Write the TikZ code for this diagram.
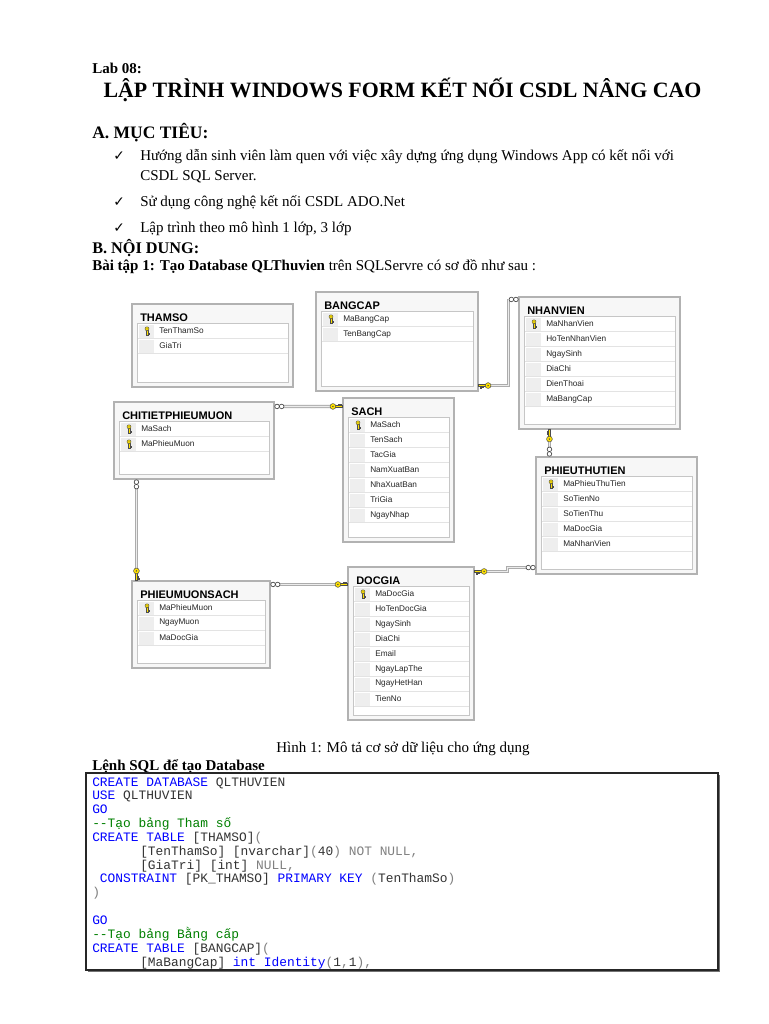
\documentclass[tikz,border=0pt]{standalone}
\usepackage{fontspec}
\setmainfont{Liberation Serif}
\setmonofont{Liberation Mono}
\newfontfamily\tblfont{Liberation Sans}
\newfontfamily\symfont{DejaVu Sans}
\usetikzlibrary{fit,calc}
\definecolor{sqlblue}{RGB}{0,0,255}
\definecolor{sqlgreen}{RGB}{0,128,0}
\definecolor{sqlgray}{RGB}{128,128,128}
\definecolor{keyyellow}{RGB}{255,226,0}
\newcommand{\kw}[1]{\textcolor{sqlblue}{#1}}
\newcommand{\cmt}[1]{\textcolor{sqlgreen}{#1}}
\newcommand{\gry}[1]{\textcolor{sqlgray}{#1}}
\newcommand{\dbtable}[7]{%
  \node[tblbox, fit={(#2,#3) (#4,#5)}] (#1) {};
  \draw[tblinner] (#2+5,#3+19.5) rectangle (#4-5,#5-5);
  \node[tbltitle] (#1-title) at (#2+8,#3+17.5) {#6};
  \foreach \k/\t [count=\i from 0] in {#7} {
    \pgfmathsetmacro\yt{#3+19.5+15*\i}
    \fill[keycell] (#2+6.5,\yt+1) rectangle (#2+22,\yt+14);
    \draw[rowline] (#2+5.5,\yt+15) -- (#4-5.5,\yt+15);
    \node[rowtext] (#1-r\i) at (#2+27,\yt+7.5) {\t};
    \ifnum\k=1 \pic at (#2+15,\yt+7.5) {rowkey}; \fi
  }
}
\begin{document}
\begin{tikzpicture}[x=0.8pt,y=-0.8pt,
  txt/.style={anchor=base west, inner sep=0, font=\fontsize{12}{14}\selectfont},
  chk/.style={anchor=base west, inner sep=0, font=\symfont\fontsize{11}{12}\selectfont},
  tblbox/.style={draw=gray!60, fill=gray!6, line width=0.9pt, inner sep=0},
  tblinner/.style={draw=gray!45, fill=white, line width=0.7pt},
  rowline/.style={draw=gray!22, line width=0.5pt},
  keycell/.style={fill=gray!13},
  rowtext/.style={anchor=west, inner sep=0, font=\tblfont\fontsize{6.6}{7}\selectfont, text=black!85},
  tbltitle/.style={anchor=base west, inner sep=0, font=\tblfont\bfseries\fontsize{8.8}{9}\selectfont},
  rel/.style={draw=gray!65, double=gray!15, double distance=1.1pt, line width=0.8pt},
  code/.style={anchor=base west, inner sep=0, font=\ttfamily\fontsize{10.3}{12}\selectfont, text=black!80},
  rowkey/.pic={
    \filldraw[fill=keyyellow, draw=black!70, line width=0.3pt] (-0.7,-0.5) rectangle (0.7,4.2);
    \filldraw[fill=keyyellow, draw=black!70, line width=0.3pt] (0.7,2.2) rectangle (1.9,3.3);
    \filldraw[fill=keyyellow, draw=black!70, line width=0.35pt] (0,-2.2) circle (2);
    \fill[black!70] (0,-2.2) circle (0.5);
  },
  relkey/.pic={
    \filldraw[fill=keyyellow, draw=black!70, line width=0.3pt] (0,-1) rectangle (7.2,1);
    \filldraw[fill=keyyellow, draw=black!70, line width=0.3pt] (1.3,1) rectangle (2.4,2.4);
    \filldraw[fill=keyyellow, draw=black!70, line width=0.3pt] (3.4,1) rectangle (4.5,2.1);
    \filldraw[fill=keyyellow, draw=black!70, line width=0.4pt] (9.5,0) circle (2.9);
    \fill[black!70] (9.5,0) circle (0.8);
  },
  relmany/.pic={
    \draw[black!75, line width=0.5pt, fill=white] (2.5,0) circle (2.3);
    \draw[black!75, line width=0.5pt, fill=white] (7.1,0) circle (2.3);
  }
]
\useasboundingbox (0,0) rectangle (768,1024);
\fill[white] (0,0) rectangle (768,1024);

% ---------- header text ----------
\node[txt, font=\bfseries\fontsize{12}{14}\selectfont] (lab) at (92,74) {Lab 08:};
\node[txt, anchor=base, font=\bfseries\fontsize{17.5}{20}\selectfont] (title) at (402.5,98) {LẬP TRÌNH WINDOWS FORM KẾT NỐI CSDL NÂNG CAO};
\node[txt, font=\bfseries\fontsize{14}{16}\selectfont] (hA) at (92,139) {A. MỤC TIÊU:};
\node[chk] (c1) at (113,161) {✓};
\node[txt] (i1) at (140,161) {Hướng dẫn sinh viên làm quen với việc xây dựng ứng dụng Windows App có kết nối với};
\node[txt] (i1b) at (140,181) {CSDL SQL Server.};
\node[chk] (c2) at (113,207) {✓};
\node[txt] (i2) at (140,207) {Sử dụng công nghệ kết nối CSDL ADO.Net};
\node[chk] (c3) at (113,232) {✓};
\node[txt] (i3) at (140,232) {Lập trình theo mô hình 1 lớp, 3 lớp};
\node[txt, font=\bfseries\fontsize{13}{15}\selectfont] (hB) at (92,253) {B. NỘI DUNG:};
\node[txt] (bt) at (92,270) {\textbf{Bài tập 1: Tạo Database QLThuvien} trên SQLServre có sơ đồ như sau :};

% ---------- tables ----------
\dbtable{thamso}{132}{304}{293}{387}{THAMSO}{1/TenThamSo,0/GiaTri}
\dbtable{bangcap}{316}{292}{478}{391}{BANGCAP}{1/MaBangCap,0/TenBangCap}
\dbtable{nhanvien}{519}{297}{680}{429}{NHANVIEN}{1/MaNhanVien,0/HoTenNhanVien,0/NgaySinh,0/DiaChi,0/DienThoai,0/MaBangCap}
\dbtable{chitiet}{114}{402}{274}{479}{CHITIETPHIEUMUON}{1/MaSach,1/MaPhieuMuon}
\dbtable{sach}{343}{398}{454}{542}{SACH}{1/MaSach,0/TenSach,0/TacGia,0/NamXuatBan,0/NhaXuatBan,0/TriGia,0/NgayNhap}
\dbtable{phieuthu}{536}{457}{697}{574}{PHIEUTHUTIEN}{1/MaPhieuThuTien,0/SoTienNo,0/SoTienThu,0/MaDocGia,0/MaNhanVien}
\dbtable{phieumuon}{132}{581}{270}{668}{PHIEUMUONSACH}{1/MaPhieuMuon,0/NgayMuon,0/MaDocGia}
\dbtable{docgia}{348}{567}{474}{720}{DOCGIA}{1/MaDocGia,0/HoTenDocGia,0/NgaySinh,0/DiaChi,0/Email,0/NgayLapThe,0/NgayHetHan,0/TienNo}

% ---------- relationships ----------
% BANGCAP -> NHANVIEN
\coordinate (k1) at ($(bangcap.south east)+(0,-6)$);
\coordinate (m1) at ($(nhanvien.north west)+(0,3)$);
\draw[rel] ($(k1)+(12.2,0)$) -| ($(m1)+(-9.7,0)$);
\pic at (k1) {relkey};
\pic[rotate=180] at (m1) {relmany};
% SACH -> CHITIETPHIEUMUON
\coordinate (m2) at ($(chitiet.north east)+(0,5)$);
\coordinate (k2) at ($(sach.north west)+(0,9)$);
\draw[rel] ($(m2)+(9.5,0)$) -- ($(k2)+(-12.2,0)$);
\pic at (m2) {relmany};
\pic[rotate=180] at (k2) {relkey};
% PHIEUMUONSACH -> CHITIETPHIEUMUON
\coordinate (m3) at ($(chitiet.south west)+(23,0)$);
\coordinate (k3) at ($(phieumuon.north west)+(5,0)$);
\draw[rel] ($(m3)+(0,9.5)$) -- ($(k3)+(0,-12.2)$);
\pic[rotate=-90] at (m3) {relmany};
\pic[rotate=90] at (k3) {relkey};
% DOCGIA -> PHIEUMUONSACH
\coordinate (m4) at ($(phieumuon.north east)+(0,4)$);
\coordinate (k4) at ($(docgia.north west)+(0,18)$);
\draw[rel] ($(m4)+(9.5,0)$) -- ($(k4)+(-12.2,0)$);
\pic at (m4) {relmany};
\pic[rotate=180] at (k4) {relkey};
% NHANVIEN -> PHIEUTHUTIEN
\coordinate (k5) at ($(nhanvien.south west)+(31,0)$);
\coordinate (m5) at ($(phieuthu.north west)+(14,0)$);
\draw[rel] ($(k5)+(0,12.2)$) -- ($(m5)+(0,-9.5)$);
\pic[rotate=-90] at (k5) {relkey};
\pic[rotate=90] at (m5) {relmany};
% DOCGIA -> PHIEUTHUTIEN
\coordinate (k6) at ($(docgia.north east)+(0,5)$);
\coordinate (m6) at ($(phieuthu.south west)+(0,-7)$);
\draw[rel] ($(k6)+(12.2,0)$) -- ($(k6)+(33,0)$) |- ($(m6)+(-9.5,0)$);
\pic at (k6) {relkey};
\pic[rotate=180] at (m6) {relmany};

% ---------- caption ----------
\node[txt, anchor=base] (cap) at (403,752) {Hình 1: Mô tả cơ sở dữ liệu cho ứng dụng};
\node[txt, font=\bfseries\fontsize{12}{14}\selectfont] (lenh) at (92,770) {Lệnh SQL để tạo Database};

% ---------- code box ----------
\draw[black!55, line width=1.2pt] (719.5,775) -- (719.5,971.5) -- (88,971.5);
\node[fit={(86,773) (718,970)}, draw=black!85, line width=0.9pt, inner sep=0] (code) {};
\node[code] (l0) at (92,786) {\kw{CREATE DATABASE} QLTHUVIEN};
\node[code] (l1) at (92,799.85) {\kw{USE} QLTHUVIEN};
\node[code] (l2) at (92,813.7) {\kw{GO}};
\node[code] (l3) at (92,827.55) {\cmt{--Tạo bảng Tham số}};
\node[code] (l4) at (92,841.4) {\kw{CREATE TABLE} [THAMSO]\gry{(}};
\node[code] (l5) at (140,855.25) {[TenThamSo] [nvarchar]\gry{(}40\gry{)} \gry{NOT NULL,}};
\node[code] (l6) at (140,869.1) {[GiaTri] [int] \gry{NULL,}};
\node[code] (l7) at (99.7,882.95) {\kw{CONSTRAINT} [PK\_THAMSO] \kw{PRIMARY KEY} \gry{(}TenThamSo\gry{)}};
\node[code] (l8) at (92,896.8) {\gry{)}};
\node[code] (l10) at (92,924.5) {\kw{GO}};
\node[code] (l11) at (92,938.35) {\cmt{--Tạo bảng Bằng cấp}};
\node[code] (l12) at (92,952.2) {\kw{CREATE TABLE} [BANGCAP]\gry{(}};
\node[code] (l13) at (140,966.05) {[MaBangCap] \kw{int} \kw{Identity}\gry{(}1\gry{,}1\gry{),}};
\end{tikzpicture}
\end{document}
